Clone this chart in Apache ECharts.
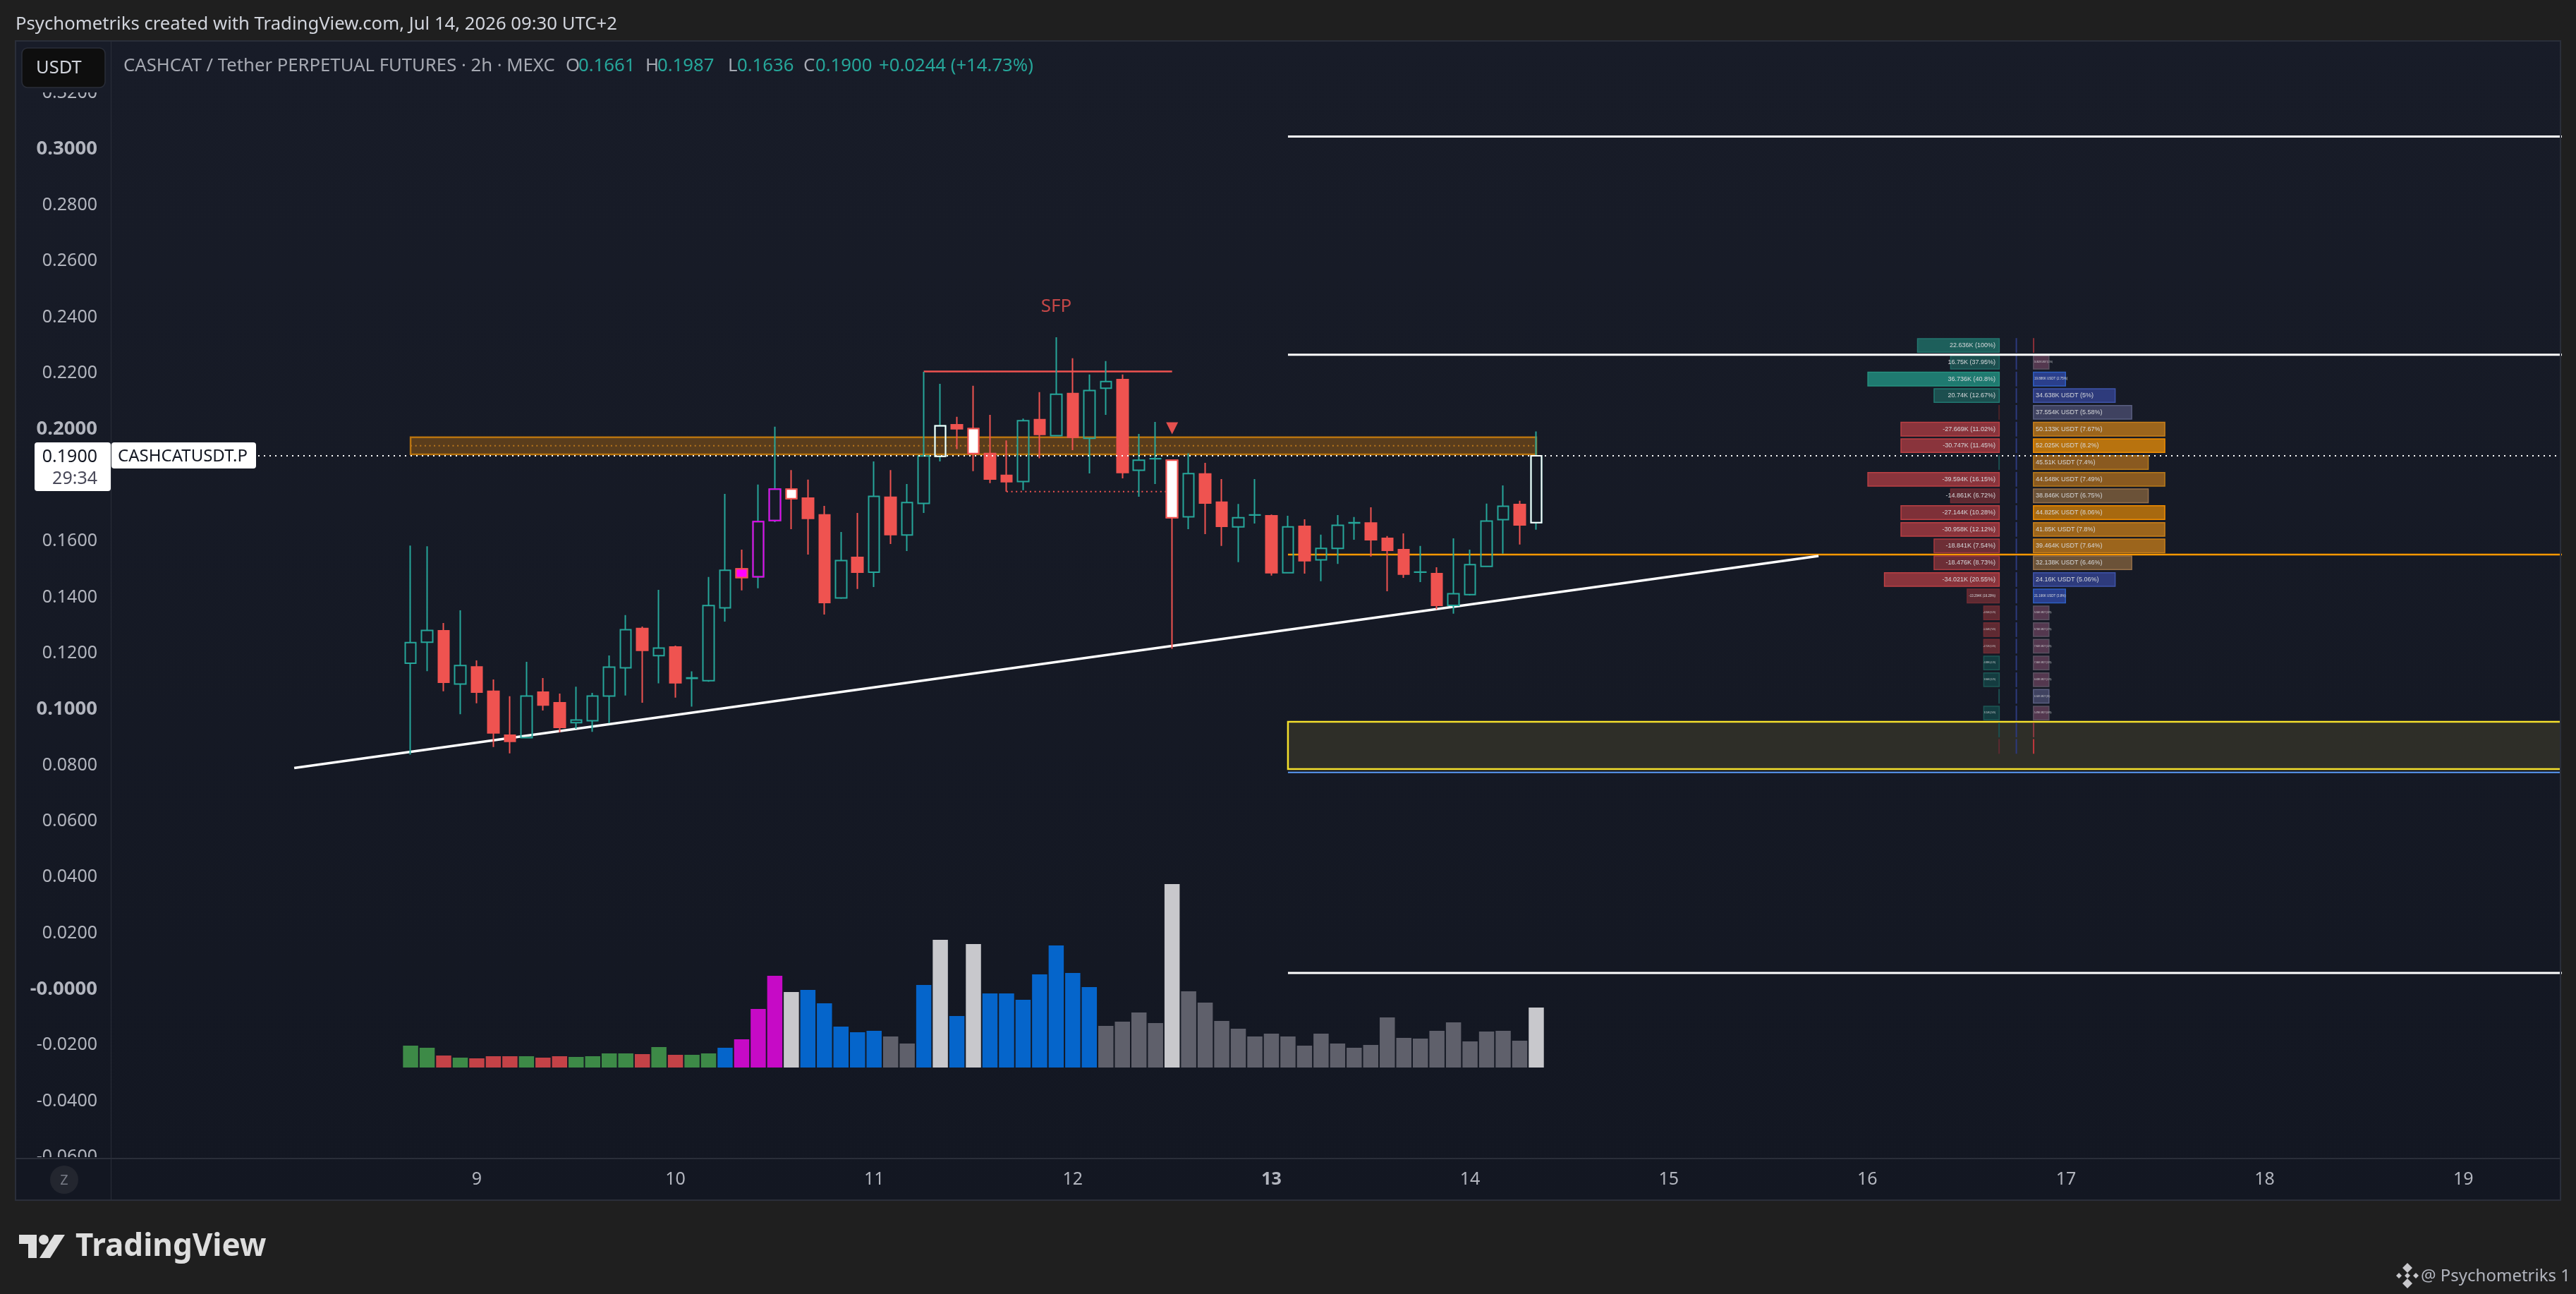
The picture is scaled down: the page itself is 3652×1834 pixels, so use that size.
<!DOCTYPE html>
<html><head><meta charset="utf-8">
<style>html,body{margin:0;padding:0;background:#1f1f1f}#c{width:3652px;height:1834px}</style>
<script src="https://cdn.jsdelivr.net/npm/echarts@6/dist/echarts.min.js"></script>
</head><body><div id="c"></div>
<script>
const opens=[.1159,.1234,.1275,.1085,.1146,.1059,.0902,.0893,.1056,.1018,.0947,.0954,.1042,.1143,.1283,.1186,.1217,.1105,.1097,.1357,.1496,.1468,.1669,.1781,.1749,.1689,.1392,.1537,.1484,.1752,.1617,.1730,.1898,.2011,.1997,.1908,.1830,.1808,.2029,.1972,.2122,.1962,.2141,.2172,.1848,.1889,.1884,.1682,.1835,.1734,.1646,.1688,.1686,.1482,.1648,.1528,.1569,.1660,.1660,.1605,.1565,.1484,.1479,.1366,.1404,.1505,.1672,.1726,.1661];
const closes=[.1233,.1276,.1091,.1151,.1056,.0910,.0880,.1042,.1010,.0930,.0956,.1042,.1145,.1279,.1205,.1213,.1089,.1107,.1365,.1491,.1465,.1665,.1781,.1747,.1676,.1376,.1526,.1484,.1755,.1618,.1733,.1899,.2007,.1996,.1908,.1817,.1807,.2025,.1976,.2120,.1966,.2133,.2165,.1840,.1884,.1890,.1679,.1836,.1731,.1648,.1679,.1689,.1482,.1646,.1525,.1569,.1652,.1661,.1600,.1562,.1477,.1485,.1366,.1407,.1511,.1667,.1720,.1653,.1900];
const lows=[.0833,.1131,.1059,.0977,.1016,.0860,.0837,.0891,.0990,.0912,.0925,.0914,.0945,.1044,.1018,.1087,.1036,.1004,.1093,.1308,.1419,.1427,.1663,.1638,.1547,.1333,.1389,.1424,.1431,.1585,.1560,.1696,.1880,.1924,.1845,.1802,.1772,.1777,.1891,.1970,.1920,.1837,.2046,.1819,.1754,.1799,.1211,.1638,.1620,.1578,.1520,.1658,.1472,.1480,.1479,.1452,.1514,.1600,.1540,.1416,.1464,.1449,.1351,.1336,.1401,.1503,.1550,.1583,.1636];
const highs=[.1579,.1577,.1303,.1348,.1169,.1101,.1041,.1164,.1106,.1051,.1075,.1053,.1187,.1331,.1290,.1421,.1222,.1130,.1467,.1764,.1565,.1797,.2004,.1849,.1815,.1721,.1628,.1696,.1880,.1849,.1799,.2200,.2157,.2039,.2150,.2046,.1955,.2033,.2127,.2323,.2248,.2190,.2238,.2190,.1978,.2021,.1885,.1909,.1875,.1817,.1728,.1817,.1690,.1686,.1673,.1618,.1688,.1681,.1716,.1613,.1623,.1578,.1502,.1605,.1565,.1729,.1794,.1739,.1987];
const highlighted=[[20,'#ef5350','#ff00ff'],[21,'#e600e6','transparent'],[22,'#e600e6','transparent'],[23,'#ef5350','#ffffff'],[32,'#ffffff','transparent'],[34,'#ef5350','#ffffff'],[46,'#ef5350','#ffffff'],[68,'#ffffff','transparent']];
const volumes=[93,84,51,42,39,48,48,48,42,48,45,48,60,60,57,87,54,54,60,84,120,249,390,321,330,273,174,150,156,132,102,351,543,219,525,315,315,288,396,519,402,342,177,195,234,189,780,324,276,198,165,132,144,132,93,144,102,84,96,213,126,123,156,192,111,153,156,114,255];
const volumeKinds=['G','G','R','G','R','R','R','G','R','R','G','G','G','G','R','G','R','G','G','B','M','M','M','W','B','B','B','B','B','Y','Y','B','W','B','W','B','B','B','B','B','B','B','Y','Y','Y','Y','W','Y','Y','Y','Y','Y','Y','Y','Y','Y','Y','Y','Y','Y','Y','Y','Y','Y','Y','Y','Y','Y','W'];
const volumePalette={G:'#3d8a47',R:'#c44247',M:'#c60ac6',W:'#c8c8cc',B:'#0565cb',Y:'#5f606b'};
const xTickValues=[4,16,28,40,52,64,76,88,100,112,124];
const xTickLabels=['9','10','11','12','13','14','15','16','17','18','19'];
const xBoldLabels=['13'];
const yTickValues=[-.06,-.04,-.02,0,.02,.04,.06,.08,.1,.12,.14,.16,.18,.2,.22,.24,.26,.28,.3,.32];
const yTickLabels=['-0.0600','-0.0400','-0.0200','-0.0000','0.0200','0.0400','0.0600','0.0800','0.1000','0.1200','0.1400','0.1600','0.1800','0.2000','0.2200','0.2400','0.2600','0.2800','0.3000','0.3200'];
const yBoldLabels=['-0.0000','0.1000','0.2000','0.3000'];
const trendline=[[-7.03,.0785],[85.05,.1542]];
const levelStart=53, levelEnd=131;
const whiteLevels=[.3040,.2261,.0053];
const orangeLevel=.1547, blueLevel=.0769;
const sfpLine=[[31,.2201],[46,.2201]];
const sfpDotted=[[36,.1772],[46,.1772]];
const lastPrice=.19;
const orangeBand=[0,68,.1966,.1905];
const yellowBox=[53,131,.0950,.0781];
const vpPrices=[.2294,.2234,.2174,.2115,.2055,.1995,.1936,.1876,.1816,.1757,.1697,.1637,.1578,.1518,.1458,.1399,.1339,.1279,.1220,.1160,.1100,.1041,.0981,.0921,.0862];
const vpLeft=[5,3,8,4,0,6,6,0,8,3,6,6,4,4,7,2,1,1,1,1,1,0,1,0,0];
const vpRight=[0,1,2,5,6,8,8,7,8,7,8,8,8,6,5,2,1,1,1,1,1,1,1,0,0];
const vpLeftLabels=['22.636K (100%)','16.75K (37.95%)','36.736K (40.8%)','20.74K (12.67%)','','-27.669K (11.02%)','-30.747K (11.45%)','','-39.594K (16.15%)','-14.861K (6.72%)','-27.144K (10.28%)','-30.958K (12.12%)','-18.841K (7.54%)','-18.476K (8.73%)','-34.021K (20.55%)','-13.294K (16.29%)','-4.916K (9.2%)','-5.204K (7.6%)','-4.712K (5.9%)','4.388K (4.1%)','3.906K (3.2%)','','3.114K (2.6%)','',''];
const vpRightLabels=['','10.842K USDT (1.5%)','19.886K USDT (2.75%)','34.638K USDT (5%)','37.554K USDT (5.58%)','50.133K USDT (7.67%)','52.025K USDT (8.2%)','45.51K USDT (7.4%)','44.548K USDT (7.49%)','38.846K USDT (6.75%)','44.825K USDT (8.06%)','41.85K USDT (7.8%)','39.464K USDT (7.64%)','32.138K USDT (6.46%)','24.16K USDT (5.06%)','21.166K USDT (3.8%)','9.204K USDT (1.9%)','8.716K USDT (1.7%)','7.902K USDT (1.5%)','7.344K USDT (1.3%)','6.618K USDT (1.1%)','6.102K USDT (1%)','5.476K USDT (0.9%)','',''];
const vpLeftStyle=['#1d5f5b|#23766f','#1c4f4f|#1f6a65','#1f7a70|#26917f','#1c4f4f|#217a72','#4a2328|#4a2328','#8a343c|#bc4044','#8a343c|#bc4044','#1c4f4f|#1c4f4f','#8a343c|#bc4044','#5e2a32|#702c34','#7e3038|#bc4044','#8a343c|#bc4044','#6d2e36|#a83a40','#6d2e36|#a83a40','#8a343c|#bc4044','#5e2a32|#702c34','#5e2a32|#702c34','#5e2a32|#702c34','#5e2a32|#702c34','#143c40|#1c5754','#143c40|#1c5754','#1c4f4f|#1c4f4f','#143c40|#1c5754','#1c4f4f|#1c4f4f','#5e2a32|#5e2a32'];
const vpRightStyle=['#8a2f38|#8a2f38','#54384f|#5a5060','#2a3f8c|#2f5fc0','#2e3b7c|#3f55aa','#3f4260|#5a5f80','#9c651c|#c87f1a','#b8730f|#f08c00','#8a5a20|#b87a1a','#8a5a20|#b87a1a','#6b5238|#96704a','#a8690f|#f08c00','#9c651c|#c87f1a','#9c651c|#c87f1a','#6b5238|#96704a','#2e3b7c|#3f55aa','#2a3f8c|#2f5fc0','#54384f|#5a5060','#54384f|#5a5060','#54384f|#5a5060','#54384f|#5a5060','#54384f|#5a5060','#3f4260|#5a5f80','#54384f|#5a5060','#8b3a40|#8b3a40','#c0373c|#c0373c'];
const vpLeftOrigin=96, vpCentre=97, vpRightOrigin=98, vpRowHeight=.00525;

const FONT='"Noto Sans"';
const TEAL='#26a69a', RED='#ef5350', AXIS='#b2b5be', LINE='#2a2e39';
const xMin=-18.07, xMax=129.87, yMin=-.06098, yMax=.3379;
const idx=opens.map((_,i)=>i);

const levelLine=(name,data,color,width,type,z)=>({type:'line',name,data,z,silent:true,symbol:'none',animation:false,
  lineStyle:{color,width,type:type||'solid',cap:'butt'},emphasis:{disabled:true}});

const boxSeries=(name,box,fill,stroke,w,z)=>({type:'custom',name,z,silent:true,clip:true,animation:false,data:[box],
  renderItem(p,api){
    const a=api.coord([api.value(0),api.value(2)]),b=api.coord([api.value(1),api.value(3)]);
    return {type:'rect',shape:{x:a[0],y:a[1],width:b[0]-a[0],height:b[1]-a[1]},style:{fill,stroke,lineWidth:w}};
  }});

const vpData=vpPrices.map((p,i)=>[p,vpLeft[i],vpRight[i],i]);
const vpFont=(n)=>n>=3?9:n===2?4.5:2.6;
function vpRender(params,api){
  const p=api.value(0),l=api.value(1),r=api.value(2),i=api.value(3);
  const h=api.size([0,vpRowHeight])[1];
  const yc=api.coord([0,p])[1], y=yc-h/2;
  const xl=api.coord([vpLeftOrigin,p])[0], xr=api.coord([vpRightOrigin,p])[0], xc=api.coord([vpCentre,p])[0];
  const bw=api.size([1,0])[0];
  const kids=[{type:'rect',shape:{x:xc-1,y,width:2,height:h},style:{fill:'#2d3a7d'}}];
  const [lf,ls]=vpLeftStyle[i].split('|'), [rf,rs]=vpRightStyle[i].split('|');
  const lw=Math.max(2,l*bw), rw=Math.max(2,r*bw);
  if(l>0) kids.push({type:'rect',shape:{x:xl-lw+.75,y:y+.75,width:lw-1.5,height:h-1.5},style:{fill:lf,stroke:ls,lineWidth:1.5}});
  else kids.push({type:'rect',shape:{x:xl-2,y,width:2,height:h},style:{fill:lf}});
  if(r>0) kids.push({type:'rect',shape:{x:xr+.75,y:y+.75,width:rw-1.5,height:h-1.5},style:{fill:rf,stroke:rs,lineWidth:1.5}});
  else kids.push({type:'rect',shape:{x:xr,y,width:2,height:h},style:{fill:rf}});
  if(vpLeftLabels[i]) kids.push({type:'text',style:{text:vpLeftLabels[i],x:xl-6,y:yc,align:'right',verticalAlign:'middle',fill:'#d6d8db',font:`${vpFont(l)}px "Liberation Sans"`}});
  if(vpRightLabels[i]) kids.push({type:'text',style:{text:vpRightLabels[i],x:xr+(r>=5?4:2),y:yc,align:'left',verticalAlign:'middle',fill:'#d6d8db',font:`${r>=5?9:vpFont(r)}px "Liberation Sans"`}});
  return {type:'group',children:kids};
}

const txt=(text,x,y,size,fill,extra)=>Object.assign({type:'text',z:62,silent:true,style:Object.assign({text,x,y,font:`${size}px ${FONT}`,fill,align:'left',verticalAlign:'middle'},extra||{})});
const rect=(x,y,w,h,fill,z,r)=>({type:'rect',z:z==null?60:z,silent:true,shape:{x,y,width:w,height:h,r:r||0},style:{fill}});
const poly=(pts,fill)=>({type:'polygon',z:62,silent:true,shape:{points:pts},style:{fill}});
const diamond=(cx,cy,r,fill)=>poly([[cx,cy-r],[cx+r,cy],[cx,cy+r],[cx-r,cy]],fill);

const graphics=[
  {type:'rect',z:-10,silent:true,shape:{x:22,y:58,width:3608,height:1643},style:{fill:new echarts.graphic.LinearGradient(0,0,0,1,[{offset:0,color:'#181c28'},{offset:1,color:'#131722'}])}},
  rect(23,59,134,72,'#181c28',50),
  rect(23,1640,134,60,'#131722',50),
  rect(22,57,3608,2,LINE),rect(22,1700,3608,2,LINE),rect(21,57,2,1645,LINE),rect(3629,57,2,1645,LINE),
  rect(157,59,1,1641,LINE),rect(22,1641,3608,2,LINE),
  {type:'rect',z:61,silent:true,shape:{x:31,y:68,width:118,height:56,r:8},style:{fill:'#0e0e0e',stroke:LINE,lineWidth:1.5}},
  txt('USDT',51,97,25.5,'#d1d4dc'),
  txt('Psychometriks created with TradingView.com, Jul 14, 2026 09:30 UTC+2',22,35,25.7,'#d1d4dc'),
  txt('CASHCAT / Tether PERPETUAL FUTURES · 2h · MEXC',175,94,25.7,'#a6a9b2'),
  txt('O',802,94,25.7,'#a6a9b2'),txt('0.1661',820,94,25.7,TEAL),
  txt('H',915,94,25.7,'#a6a9b2'),txt('0.1987',932,94,25.7,TEAL),
  txt('L',1032,94,25.7,'#a6a9b2'),txt('0.1636',1045,94,25.7,TEAL),
  txt('C',1139,94,25.7,'#a6a9b2'),txt('0.1900',1156,94,25.7,TEAL),
  txt('+0.0244 (+14.73%)',1246,94,25.7,TEAL),
  rect(49,627,108,69,'#ffffff',61,4),
  rect(158,627,205,37,'#ffffff',61,4),
  txt('0.1900',138,648,25,'#131722',{align:'right'}),
  txt('29:34',138,679,25,'#4a4a5a',{align:'right'}),
  txt('CASHCATUSDT.P',167,647,24,'#131722'),
  {type:'circle',z:61,silent:true,shape:{cx:91,cy:1672,r:20},style:{fill:'#23262f'}},
  txt('Z',91,1673,20,'#787b86',{align:'center'}),
  poly([[27,1750],[52,1750],[52,1783],[40,1783],[40,1763],[27,1763]],'#dedede'),
  {type:'circle',z:62,silent:true,shape:{cx:62,cy:1757,r:7},style:{fill:'#dedede'}},
  poly([[77,1750],[92,1750],[71,1783],[56,1783]],'#dedede'),
  txt('TradingView',107,1767,44,'#dedede',{font:`700 44px ${FONT}`}),
  diamond(3413,1797,7,'#c8c8cc'),diamond(3413,1819,7,'#c8c8cc'),diamond(3401,1808,4,'#c8c8cc'),diamond(3425,1808,4,'#c8c8cc'),diamond(3413,1808,4,'#c8c8cc'),
  txt('@ Psychometriks 1',3432,1809,24,'#b2b5be')
];

const option={
  backgroundColor:'#1f1f1f',animation:false,
  grid:{left:158,right:22,top:59,bottom:192,containLabel:false},
  xAxis:{type:'value',min:xMin,max:xMax,splitLine:{show:false},axisTick:{show:false},axisLine:{show:false},
    axisLabel:{customValues:xTickValues,margin:17,color:AXIS,fontFamily:FONT,fontSize:25,showMinLabel:true,showMaxLabel:true,
      formatter:v=>{const t=xTickLabels[xTickValues.indexOf(v)]||'';return xBoldLabels.includes(t)?`{b|${t}}`:t;},
      rich:{b:{fontWeight:'bold',fontFamily:FONT,fontSize:25,color:AXIS}}}},
  yAxis:[
    {type:'value',min:yMin,max:yMax,position:'left',scale:true,splitLine:{show:false},axisTick:{show:false},axisLine:{show:false},
     axisLabel:{customValues:yTickValues,margin:20,color:AXIS,fontFamily:FONT,fontSize:25,align:'right',padding:[4,0,0,0],
       formatter:v=>{const k=yTickValues.findIndex(t=>Math.abs(t-v)<1e-9),t=yTickLabels[k]||'';return yBoldLabels.includes(t)?`{b|${t}}`:t;},
       rich:{b:{fontWeight:'bold',fontFamily:FONT,fontSize:27.5,color:AXIS}}}},
    {type:'value',show:false,min:-387,max:4362,splitLine:{show:false}}
  ],
  graphic:{elements:graphics},
  series:[
    boxSeries('Orange band',orangeBand,'#5a3d1c','#b8730f',2.5,1),
    levelLine('Band midline',[[orangeBand[0],(orangeBand[2]+orangeBand[3])/2],[orangeBand[1],(orangeBand[2]+orangeBand[3])/2]],'#b8771f',2,[2,4.6],1),
    boxSeries('Demand box',yellowBox,'#2e2e28','#f5e02c',2.5,1),
    levelLine('Blue level',[[levelStart,blueLevel],[levelEnd,blueLevel]],'#5b9bf5',2,'solid',1),
    levelLine('Orange level',[[levelStart,orangeLevel],[levelEnd,orangeLevel]],'#ff9800',2.5,'solid',1),
    ...whiteLevels.map((v,i)=>levelLine('Level '+i,[[levelStart,v],[levelEnd,v]],'#ffffff',3,'solid',2)),
    levelLine('Trendline',trendline,'#ffffff',3.5,'solid',2),
    levelLine('SFP line',sfpLine,RED,2.5,'solid',2),
    levelLine('SFP dotted',sfpDotted,RED,2,[2,4.6],2),
    {type:'custom',name:'Volume profile',z:2,silent:true,clip:true,animation:false,data:vpData,renderItem:vpRender},
    {type:'bar',name:'Volume',yAxisIndex:1,barWidth:21.5,z:3,silent:true,animation:false,
     data:volumes.map((v,i)=>({value:[i,v],itemStyle:{color:volumePalette[volumeKinds[i]]}}))},
    {type:'candlestick',name:'CASHCATUSDT.P',barWidth:16,z:4,silent:true,animation:false,
     itemStyle:{color:'transparent',color0:RED,borderColor:TEAL,borderColor0:RED,borderColorDoji:TEAL,borderWidth:2},
     data:idx.map(i=>[i,opens[i],closes[i],lows[i],highs[i]])},
    {type:'candlestick',name:'Highlighted bodies',barWidth:16,z:5,silent:true,animation:false,
     data:highlighted.map(([i,b,f])=>{const lo=Math.min(opens[i],closes[i]),hi=Math.max(opens[i],closes[i]);
       return {value:[i,opens[i],closes[i],lo,hi],itemStyle:{color:f,color0:f,borderColor:b,borderColor0:b,borderWidth:2}};})},
    {type:'scatter',name:'SFP marker',z:6,silent:true,animation:false,symbol:'triangle',symbolRotate:180,symbolSize:[17,17],itemStyle:{color:RED,opacity:.95},data:[[46,.1998]]},
    {type:'scatter',name:'SFP label',z:6,silent:true,animation:false,symbolSize:0,data:[[39,.2432]],
     label:{show:true,formatter:'SFP',position:'inside',color:RED,fontFamily:FONT,fontSize:26}},
    levelLine('Last price',[[xMin,lastPrice],[xMax,lastPrice]],'#ffffff',2,[2,6],7)
  ]
};
const chart=echarts.init(document.getElementById('c'),null,{renderer:'canvas',width:3652,height:1834});
chart.setOption(option);
</script></body></html>
